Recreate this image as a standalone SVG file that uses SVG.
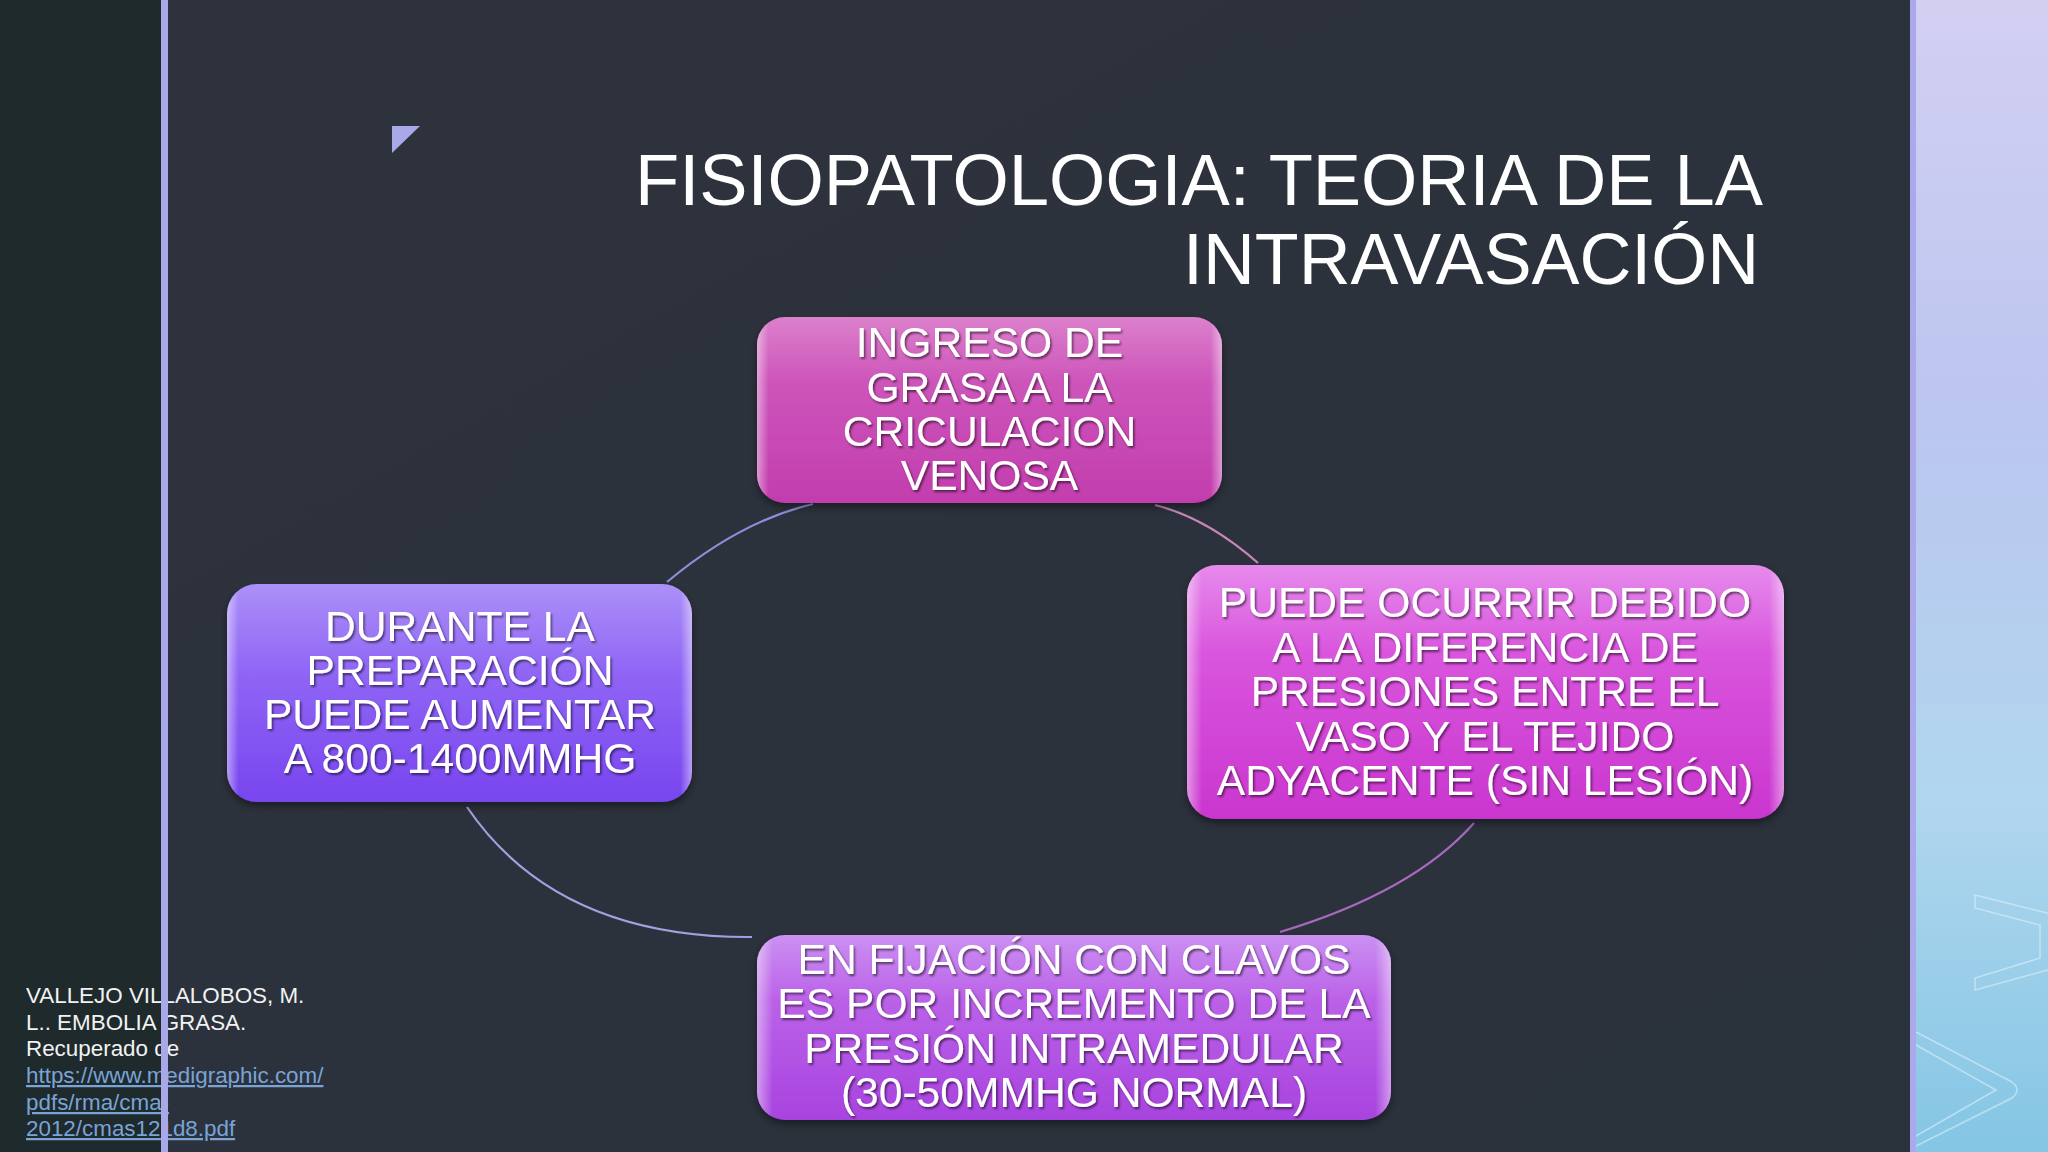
<svg xmlns="http://www.w3.org/2000/svg" width="2048" height="1152" viewBox="0 0 2048 1152">
<defs>
<style>
.title{font-family:"Liberation Sans",Arial,sans-serif;font-size:72px;fill:#ffffff;text-anchor:end}
.nt{font-family:"Liberation Sans",Arial,sans-serif;font-size:42.6px;fill:#ffffff;text-anchor:middle;filter:url(#tsh)}
.cite{font-family:"Liberation Sans",Arial,sans-serif;font-size:22.4px;fill:#f2f2f2}
.link{fill:#7aa3d6;text-decoration:underline}
.arc{fill:none;stroke-width:2.2}
.gloss{fill:url(#edge)}
</style>
<linearGradient id="bgMain" x1="0" y1="0" x2="1" y2="1">
<stop offset="0" stop-color="#2e323d"/>
<stop offset="1" stop-color="#2a323c"/>
</linearGradient>
<linearGradient id="rightPanel" x1="0" y1="0" x2="0" y2="1">
<stop offset="0" stop-color="#d3d0f2"/>
<stop offset="0.35" stop-color="#bcc6f0"/>
<stop offset="0.7" stop-color="#b0d6ee"/>
<stop offset="1" stop-color="#84c6e4"/>
</linearGradient>
<linearGradient id="gTop" x1="0" y1="0" x2="0" y2="1">
<stop offset="0" stop-color="#dc80cc"/>
<stop offset="0.35" stop-color="#cd55ba"/>
<stop offset="1" stop-color="#c23dae"/>
</linearGradient>
<linearGradient id="gRight" x1="0" y1="0" x2="0" y2="1">
<stop offset="0" stop-color="#e68aec"/>
<stop offset="0.35" stop-color="#d955dd"/>
<stop offset="1" stop-color="#ca36cf"/>
</linearGradient>
<linearGradient id="gLeft" x1="0" y1="0" x2="0" y2="1">
<stop offset="0" stop-color="#ac90f8"/>
<stop offset="0.4" stop-color="#9066f5"/>
<stop offset="1" stop-color="#7845ef"/>
</linearGradient>
<linearGradient id="gBottom" x1="0" y1="0" x2="0" y2="1">
<stop offset="0" stop-color="#cb90f2"/>
<stop offset="0.35" stop-color="#bb62e8"/>
<stop offset="1" stop-color="#a843df"/>
</linearGradient>
<linearGradient id="edge" x1="0" y1="0" x2="1" y2="0">
<stop offset="0" stop-color="#ffffff" stop-opacity="0.45"/>
<stop offset="0.025" stop-color="#ffffff" stop-opacity="0"/>
<stop offset="0.975" stop-color="#ffffff" stop-opacity="0"/>
<stop offset="1" stop-color="#ffffff" stop-opacity="0.45"/>
</linearGradient>
<filter id="tsh" x="-10%" y="-30%" width="120%" height="160%">
<feDropShadow dx="1.5" dy="2" stdDeviation="1.2" flood-color="#000000" flood-opacity="0.55"/>
</filter>
<filter id="nsh" x="-10%" y="-10%" width="120%" height="130%">
<feDropShadow dx="0" dy="4" stdDeviation="4" flood-color="#000000" flood-opacity="0.45"/>
</filter>
</defs>

<!-- background -->
<rect x="0" y="0" width="2048" height="1152" fill="url(#bgMain)"/>
<rect x="0" y="0" width="162" height="1152" fill="#1e2a2b"/>
<rect x="1916" y="0" width="132" height="1152" fill="url(#rightPanel)"/>
<g fill="none" stroke="#e4f4fb" stroke-opacity="0.55" stroke-width="1.5">
<path d="M1975,895 L2055,915 L2055,968 L1975,990 L1975,978 L2040,958 L2040,925 L1975,908 Z"/>
<path d="M1916,1032 L2012,1082 Q2022,1090 2012,1098 L1916,1146 M1916,1045 L1996,1090 L1916,1136"/>
</g>
<polygon points="392,126 420,126 392,153" fill="#a9a9ea"/>

<!-- title -->
<g id="title">
<text class="title" x="1763" y="205" textLength="1128" lengthAdjust="spacingAndGlyphs">FISIOPATOLOGIA: TEORIA DE LA</text>
<text class="title" x="1759" y="284" textLength="576" lengthAdjust="spacingAndGlyphs">INTRAVASACIÓN</text>
</g>

<!-- connectors -->
<g id="connectors">
<path class="arc" stroke="#8c8fd8" d="M813,504 Q740,521 667,582"/>
<path class="arc" stroke="#c987b9" d="M1155,505 Q1207,518 1258,563"/>
<path class="arc" stroke="#a868bd" d="M1474,823 Q1413,892 1280,932"/>
<path class="arc" stroke="#a69ee0" d="M467,807 Q556,938 752,937"/>
</g>

<!-- nodes -->
<g id="node-top">
<rect x="757" y="317" width="465" height="186" rx="28" fill="url(#gTop)" filter="url(#nsh)"/>
<rect class="gloss" x="757" y="317" width="465" height="186" rx="28"/>
<text class="nt" x="989.5" y="357">INGRESO DE</text>
<text class="nt" x="989.5" y="401.5">GRASA A LA</text>
<text class="nt" x="989.5" y="446">CRICULACION</text>
<text class="nt" x="989.5" y="490">VENOSA</text>
</g>

<g id="node-right">
<rect x="1187" y="565" width="597" height="254" rx="30" fill="url(#gRight)" filter="url(#nsh)"/>
<rect class="gloss" x="1187" y="565" width="597" height="254" rx="30"/>
<text class="nt" x="1485" y="617">PUEDE OCURRIR DEBIDO</text>
<text class="nt" x="1485" y="661.5">A LA DIFERENCIA DE</text>
<text class="nt" x="1485" y="706">PRESIONES ENTRE EL</text>
<text class="nt" x="1485" y="750.5">VASO Y EL TEJIDO</text>
<text class="nt" x="1485" y="795">ADYACENTE (SIN LESIÓN)</text>
</g>

<g id="node-bottom">
<rect x="757" y="935" width="634" height="185" rx="28" fill="url(#gBottom)" filter="url(#nsh)"/>
<rect class="gloss" x="757" y="935" width="634" height="185" rx="28"/>
<text class="nt" x="1074" y="974">EN FIJACIÓN CON CLAVOS</text>
<text class="nt" x="1074" y="1018">ES POR INCREMENTO DE LA</text>
<text class="nt" x="1074" y="1062.5">PRESIÓN INTRAMEDULAR</text>
<text class="nt" x="1074" y="1107">(30-50MMHG NORMAL)</text>
</g>

<g id="node-left">
<rect x="227" y="584" width="465" height="218" rx="30" fill="url(#gLeft)" filter="url(#nsh)"/>
<rect class="gloss" x="227" y="584" width="465" height="218" rx="30"/>
<text class="nt" x="460" y="641">DURANTE LA</text>
<text class="nt" x="460" y="685">PREPARACIÓN</text>
<text class="nt" x="460" y="729">PUEDE AUMENTAR</text>
<text class="nt" x="460" y="773">A 800-1400MMHG</text>
</g>

<!-- citation -->
<g id="citation">
<text class="cite" x="26" y="1003">VALLEJO VILLALOBOS, M.</text>
<text class="cite" x="26" y="1030">L.. EMBOLIA GRASA.</text>
<text class="cite" x="26" y="1056">Recuperado de</text>
<text class="cite link" x="26" y="1083">https://www.medigraphic.com/</text>
<text class="cite link" x="26" y="1110">pdfs/rma/cma-</text>
<text class="cite link" x="26" y="1136">2012/cmas121d8.pdf</text>
</g>

<!-- accent lines -->
<rect x="161" y="0" width="7" height="1152" fill="#a9a9ea"/>
<rect x="1910" y="0" width="6" height="1152" fill="#aca8ec"/>
</svg>
